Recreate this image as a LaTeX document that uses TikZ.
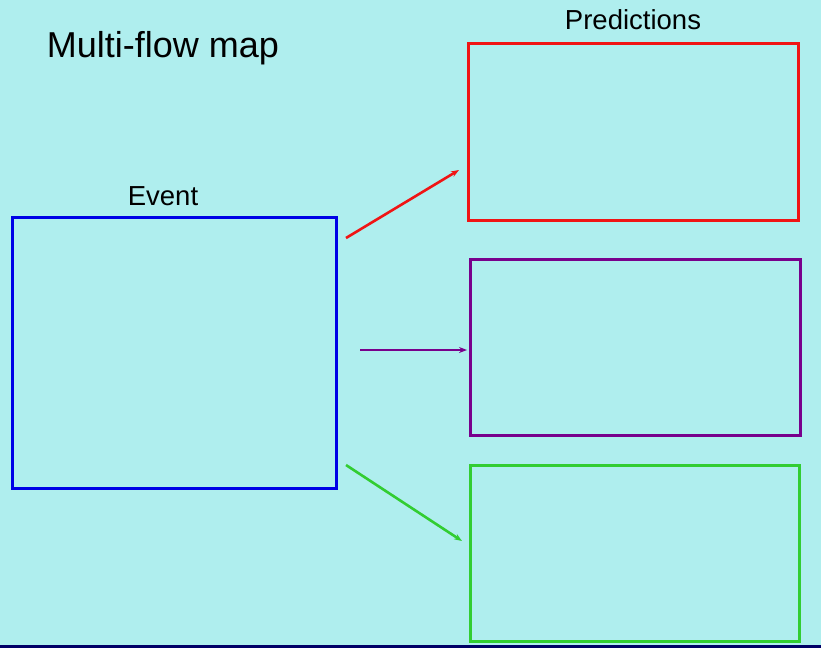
\documentclass[tikz,border=0pt]{standalone}
\usepackage{fontspec}
\setmainfont{Liberation Sans}
\usetikzlibrary{arrows.meta}
\definecolor{bg}{RGB}{175,238,238}
\definecolor{bbox}{RGB}{0,0,230}
\definecolor{rbox}{RGB}{240,20,20}
\definecolor{pbox}{RGB}{120,0,140}
\definecolor{gbox}{RGB}{50,205,50}
\begin{document}
\begin{tikzpicture}[x=1pt,y=-1pt,
 box/.style={draw,line width=3pt},
 arr/.style={line width=2.6pt,-{Stealth[length=8pt,width=6pt]}},
 lab/.style={font=\fontsize{27.5}{30}\selectfont}]
\fill[bg] (0,0) rectangle (821,648);
\useasboundingbox (0,0) rectangle (821,648);
\fill[blue!40!black] (0,645) rectangle (821,648);
\node[font=\fontsize{36}{40}\selectfont] (title) at (163,48) {Multi-flow map};
\node[lab] (pred) at (633,20) {Predictions};
\node[lab] (ev) at (163,196) {Event};
\draw[box,bbox] (12,217) rectangle (336,488);
\draw[box,rbox] (468,43) rectangle (798,220);
\draw[box,pbox] (470,259) rectangle (800,435);
\draw[box,gbox] (470,465) rectangle (799,641);
\coordinate (r1) at (346,238); \coordinate (r2) at (459,170);
\coordinate (p1) at (360,350); \coordinate (p2) at (467,350);
\coordinate (g1) at (346,465); \coordinate (g2) at (462,541);
\draw[arr,rbox] (r1) -- (r2);
\draw[arr,pbox] (p1) -- (p2);
\draw[arr,gbox] (g1) -- (g2);
\end{tikzpicture}
\end{document}
